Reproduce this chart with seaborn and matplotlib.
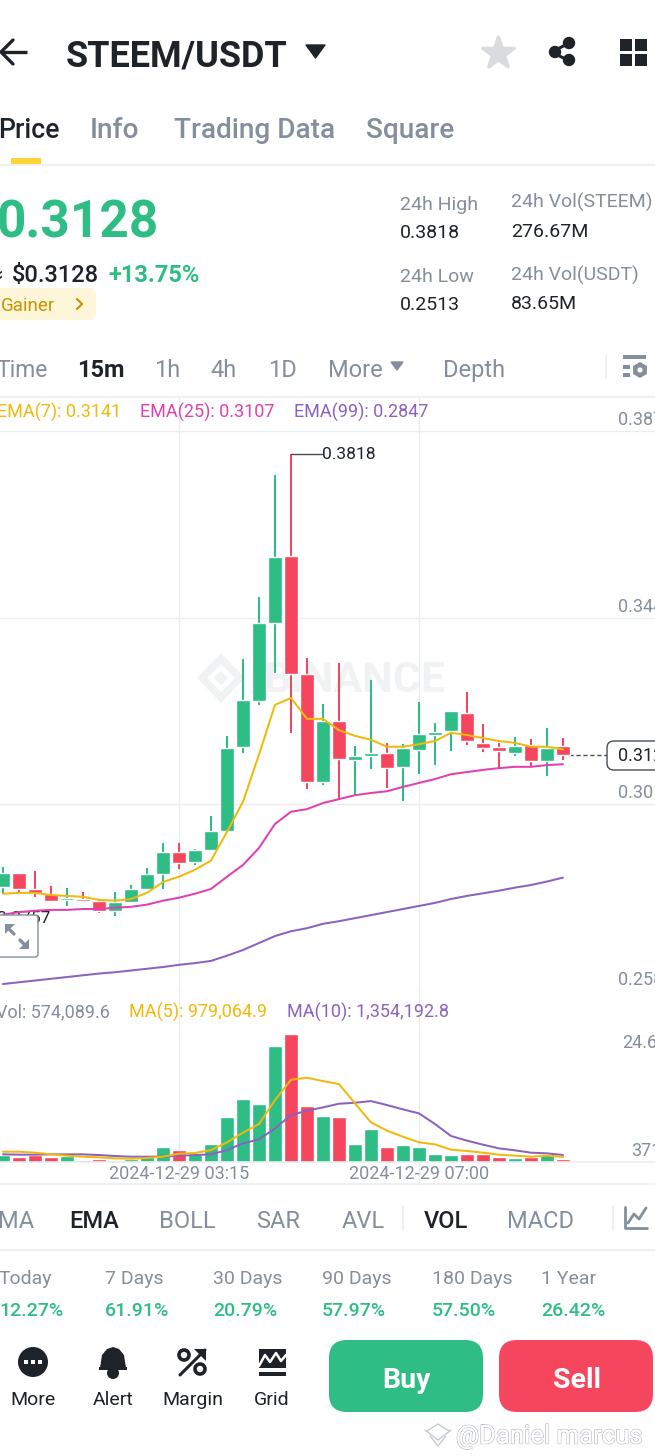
import numpy as np
import pandas as pd
import seaborn as sns
import matplotlib
matplotlib.use("Agg")
import matplotlib.pyplot as plt
from matplotlib.patches import FancyBboxPatch, Polygon, Circle, Rectangle, RegularPolygon
from matplotlib.transforms import ScaledTranslation
import matplotlib.patheffects as pe

# ---------- data ----------
opens  = [.2826,.2858,.2821,.2810,.2796,.2798,.2794,.2771,.2791,.2821,.2856,.2906,.2883,.2911,.2954,.3146,.3252,.3431,.3584,.3314,.3066,.3206,.3117,.3126,.3133,.3101,.3140,.3174,.3183,.3224,.3156,.3147,.3133,.3151,.3115,.3149]
closes = [.2858,.2821,.2812,.2794,.2801,.2794,.2771,.2791,.2821,.2856,.2906,.2881,.2911,.2954,.3144,.3254,.3431,.3582,.3314,.3066,.3206,.3119,.3126,.3133,.3098,.3144,.3176,.3181,.3229,.3160,.3144,.3137,.3149,.3115,.3144,.3128]
highs  = [.2872,.2858,.2863,.2828,.2824,.2814,.2798,.2814,.2830,.2869,.2927,.2927,.2913,.2989,.3172,.3348,.3490,.3770,.3818,.3350,.3245,.3339,.3149,.3300,.3156,.3153,.3249,.3202,.3229,.3272,.3199,.3156,.3170,.3165,.3190,.3167]
lows   = [.2812,.2814,.2803,.2794,.2782,.2794,.2766,.2759,.2791,.2821,.2821,.2867,.2876,.2911,.2954,.3133,.3243,.3316,.3178,.3050,.3059,.3027,.3034,.3096,.3052,.3022,.3085,.3105,.3137,.3151,.3135,.3098,.3126,.3101,.3080,.3117]
ema7   = [.2810,.2812,.2812,.2807,.2805,.2803,.2796,.2794,.2798,.2812,.2837,.2849,.2865,.2886,.2952,.3021,.3129,.3243,.3259,.3211,.3211,.3185,.3172,.3163,.3147,.3147,.3153,.3160,.3179,.3174,.3167,.3160,.3156,.3147,.3147,.3141]
ema25  = [.2762,.2768,.2771,.2773,.2773,.2775,.2775,.2778,.2780,.2785,.2794,.2801,.2810,.2821,.2849,.2876,.2915,.2970,.2998,.3004,.3018,.3027,.3036,.3041,.3045,.3055,.3064,.3073,.3084,.3089,.3094,.3098,.3101,.3101,.3105,.3107]
ema99  = [.2603,.2607,.2611,.2615,.2619,.2623,.2627,.2630,.2634,.2638,.2642,.2647,.2651,.2656,.2668,.2681,.2697,.2713,.2724,.2731,.2741,.2747,.2754,.2761,.2768,.2775,.2782,.2789,.2798,.2805,.2811,.2817,.2824,.2830,.2838,.2847]
volume = [1.29,1.02,1.34,1.02,1.15,.38,.63,.38,.58,1.34,2.94,2.36,1.54,3.40,8.58,12.10,11.19,22.27,24.60,10.75,8.77,8.58,3.46,6.34,2.88,3.26,2.88,1.54,1.40,1.48,1.54,1.02,.71,.90,1.54,.57]
vol_ma5  = [1.98,1.98,1.79,1.47,1.22,1.02,.90,.70,.64,.77,1.02,1.60,1.73,2.30,3.78,5.63,7.30,11.90,15.81,16.19,15.55,14.98,11.26,7.62,6.02,4.86,3.78,3.39,2.37,2.11,1.79,1.41,1.22,1.02,1.22,.98]
vol_ma10 = [1.47,1.41,1.41,1.47,1.47,1.47,1.34,1.15,1.02,1.02,1.02,1.22,1.34,1.47,2.30,3.58,4.35,6.46,9.02,9.86,10.50,11.20,11.39,11.71,10.94,10.11,9.34,7.30,5.00,4.10,3.33,2.62,2.24,1.79,1.66,1.35]
price_ticks = [.3871,.3443,.3015,.2587]
price_tick_labels = ["0.387","0.344","0.301","0.258"]
vol_ticks = [24.6,.371]
vol_tick_labels = ["24.6","371"]
time_ticks = [11,26]
time_tick_labels = ["2024-12-29 03:15","2024-12-29 07:00"]
high_price, last_price = .3818, .3128

periods = ["Today","7 Days","30 Days","90 Days","180 Days","1 Year"]
period_changes = ["12.27%","61.91%","20.79%","57.97%","57.50%","26.42%"]

GREEN, RED, YEL, PINK, PUR = "#2EBD85", "#F6465D", "#F0B90B", "#E040B0", "#8B62BE"
GRAY, DARK, LINE = "#848E9C", "#1E2329", "#EAECEF"

sns.set_theme(style="white")
plt.rcParams["font.family"] = ["Roboto", "DejaVu Sans"]

idx = np.arange(len(opens))
df = pd.DataFrame({"i": idx, "o": opens, "c": closes, "h": highs, "l": lows, "vol": volume})
df["dir"] = np.where(df.c >= df.o, "up", "down")
pal = {"up": GREEN, "down": RED}

W, H = 655, 1456
fig = plt.figure(figsize=(W/100, H/100), dpi=100, facecolor="white")

def px_axes(top, bottom, z):
    return fig.add_axes([0, 1-bottom/H, 1, (bottom-top)/H], zorder=z)

back = fig.add_axes([0, 0, 1, 1], zorder=0); back.set_xlim(0, W); back.set_ylim(H, 0); back.axis("off")
front = fig.add_axes([0, 0, 1, 1], zorder=5); front.set_xlim(0, W); front.set_ylim(H, 0); front.axis("off")
front.patch.set_alpha(0)

XLIM = (-3/16, 652/16)
# ---------- price panel ----------
ax = px_axes(431, 991, 2)
ax.patch.set_alpha(0)
cols = df.dir.map(pal)
ax.vlines(df.i, df.l, df.h, colors=cols, lw=1.45, zorder=2)
ax.bar(df.i, (df.c-df.o).abs(), bottom=df[["o","c"]].min(axis=1), width=.86, color=cols, zorder=3)
for series, col in ((ema99, PUR), (ema25, PINK), (ema7, YEL)):
    sns.lineplot(x=idx, y=series, color=col, lw=1.45, ax=ax, legend=False, errorbar=None, zorder=4)
ax.set_xlim(*XLIM); ax.set_ylim(.2587, .3871)
ax.set_xticks(time_ticks); ax.set_xticklabels([])
ax.yaxis.tick_right()
ax.set_yticks(price_ticks); ax.set_yticklabels(price_tick_labels)
ax.tick_params(axis="y", length=0, pad=-26.6, labelsize=13, labelcolor=GRAY)
ax.tick_params(axis="x", length=0)
lift = ScaledTranslation(0, 2/72*0.72, fig.dpi_scale_trans)
for t in ax.get_yticklabels():
    t.set_ha("left"); t.set_va("bottom")
    t.set_transform(t.get_transform() + lift)
ax.grid(True, color=LINE, lw=1); ax.set_axisbelow(True)
for s in ax.spines.values(): s.set_visible(False)
ax.set_xlabel(""); ax.set_ylabel("")
ax.plot([18, 19.95], [high_price, high_price], color="#474D57", lw=1, zorder=2)
ax.text(19.95, high_price, "0.3818", color=DARK, fontsize=12.5, va="center", ha="left")
ax.plot([35.4, 37.75], [last_price, last_price], color="#474D57", lw=1, ls=(0, (3, 2)), zorder=2)

# ---------- volume panel ----------
vx = px_axes(1034, 1162, 2)
vx.patch.set_alpha(0)
sns.barplot(data=df, x="i", y="vol", hue="dir", palette=pal, native_scale=True, dodge=False,
            width=.86, saturation=1, errorbar=None, legend=False, ax=vx, zorder=2)
sns.lineplot(x=idx, y=vol_ma10, color=PUR, lw=1.45, ax=vx, legend=False, errorbar=None, zorder=4)
sns.lineplot(x=idx, y=vol_ma5, color=YEL, lw=1.45, ax=vx, legend=False, errorbar=None, zorder=5)
vx.set_xlim(*XLIM); vx.set_ylim(0, 24.6)
vx.set_xticks(time_ticks); vx.set_xticklabels(time_tick_labels)
vx.tick_params(axis="x", length=0, pad=2, labelsize=13, labelcolor=GRAY)
vx.set_yticks([])
for val, lab, off, va in zip(vol_ticks, vol_tick_labels, (-33, -24), ("top", "bottom")):
    vx.annotate(lab, xy=(1, val), xycoords=vx.get_yaxis_transform(), xytext=(off, 0),
                textcoords="offset pixels", ha="left", va=va, color=GRAY, fontsize=13)
vx.grid(True, axis="x", color=LINE, lw=1); vx.set_axisbelow(True)
for s in ("top", "left", "right"): vx.spines[s].set_visible(False)
vx.spines["bottom"].set_color(LINE); vx.spines["bottom"].set_linewidth(1.2)
vx.set_xlabel(""); vx.set_ylabel("")

# ---------- interface furniture ----------
def T(x, y, s, c=DARK, size=14, w="normal", ha="left", a=None, **kw):
    return (a or front).text(x, y + size*0.13, s, color=c, fontsize=size, fontweight=w, ha=ha, va="center", **kw)

for y in (164.5, 397, 1183.5, 1250):
    back.plot([0, W], [y, y], color=LINE, lw=1.1)
for x in (179, 419):
    for y0, y1 in ((398, 431), (991, 1034), (1162, 1183)):
        back.plot([x, x], [y0, y1], color=LINE, lw=1)

# watermark in chart
WM = "#F1F2F3"
T(263, 676, "BINANCE", WM, 31, "bold", a=back)
cx, cy = 221, 678
back.add_patch(Polygon([[cx-24,cy],[cx,cy-25],[cx+24,cy],[cx,cy+25]], fc=WM, ec="none"))
back.add_patch(Polygon([[cx-14,cy],[cx,cy-14],[cx+14,cy],[cx,cy+14]], fc="white", ec="none"))
back.add_patch(Polygon([[cx-7,cy],[cx,cy-7],[cx+7,cy],[cx,cy+7]], fc=WM, ec="none"))

# header
front.plot([2, 27], [52, 52], color=DARK, lw=2.4, solid_capstyle="butt")
front.plot([13, 1, 13], [40, 52, 64], color=DARK, lw=2.4, solid_joinstyle="miter")
T(66, 53, "STEEM/USDT", DARK, 26, "bold")
front.add_patch(Polygon([[306,45],[325,45],[315.5,58]], fc=DARK, ec=DARK, lw=1, joinstyle="round"))
front.scatter([498], [53], marker="*", s=560, color="#D9DBDF", edgecolors="#D9DBDF", linewidths=2.5)
for a_, b_ in (((552, 52), (571, 42)), ((552, 52), (571, 62))):
    front.plot([a_[0], b_[0]], [a_[1], b_[1]], color=DARK, lw=2.2)
for c_ in ((555, 52), (569, 43), (569, 60)):
    front.add_patch(Circle(c_, 6.2, fc=DARK, ec="none"))
for sx, sy in ((620, 39), (635, 39), (620, 54), (635, 54)):
    front.add_patch(Rectangle((sx, sy), 12, 12, fc=DARK, ec="none"))

# tabs
T(-2, 128, "Price", DARK, 19.2, "medium")
for x, s in ((90, "Info"), (174, "Trading Data"), (366, "Square")):
    T(x, 128, s, GRAY, 20.2, "medium")
front.add_patch(Rectangle((11, 158), 30, 6, fc="#FCD535", ec="none"))

# price block
T(-3, 219, "0.3128", GREEN, 37, "bold")
T(-10, 273, "≈", DARK, 17)
T(12, 273, "$0.3128", DARK, 17, "medium")
T(108, 273, "+13.75%", GREEN, 17, "bold")
front.add_patch(FancyBboxPatch((-12, 288), 108, 32, boxstyle="round,pad=0,rounding_size=7", fc="#FEF6D8", ec="none"))
T(1, 304, "Gainer", "#C99400", 13.5)
front.plot([77, 82, 77], [299, 304, 309], color="#C99400", lw=1.6)
for x, y1, s1, y2, s2 in ((400, 203, "24h High", 231, "0.3818"), (511, 201, "24h Vol(STEEM)", 230, "276.67M"),
                          (400, 275, "24h Low", 303, "0.2513"), (511, 274, "24h Vol(USDT)", 302, "83.65M")):
    T(x, y1, s1, GRAY, 14)
    T(x, y2, s2, DARK, 14)

# timeframe row
T(-4, 368, "Time", GRAY, 16.5)
T(77, 368, "15m", DARK, 17, "bold")
for x, s in ((154, "1h"), (210, "4h"), (268, "1D"), (328, "More"), (443, "Depth")):
    T(x, 368, s, GRAY, 17)
front.add_patch(Polygon([[391,362],[403,362],[397,370]], fc=GRAY, ec=GRAY, lw=1))
back.plot([606, 606], [355, 378], color=LINE, lw=1.2)
front.add_patch(Rectangle((623, 355), 23, 3.5, fc=GRAY, ec="none"))
front.add_patch(Rectangle((623, 365), 7, 3.5, fc=GRAY, ec="none"))
front.add_patch(Rectangle((623, 373), 7, 3.5, fc=GRAY, ec="none"))
front.add_patch(RegularPolygon((640, 370), 6, radius=8, fc=GRAY, ec="none"))
front.add_patch(Circle((640, 370), 2.6, fc="white", ec="none"))

# legends
T(-3, 411, "EMA(7): 0.3141", YEL, 13)
T(140, 411, "EMA(25): 0.3107", PINK, 13)
T(294, 411, "EMA(99): 0.2847", PUR, 13)
T(-4, 1011, "Vol: 574,089.6", GRAY, 13)
T(129, 1011, "MA(5): 979,064.9", YEL, 13)
T(287, 1011, "MA(10): 1,354,192.8", PUR, 13)

# left low label and expand button
T(-3, 917, "0.2757", DARK, 12.5, a=back)
front.add_patch(FancyBboxPatch((-12, 915), 50, 42, boxstyle="round,pad=0,rounding_size=3", fc="white", ec=GRAY, lw=1))
for (x0, y0, x1, y1) in ((8, 928, 14, 934), (26, 946, 20, 940)):
    front.plot([x0, x1], [y0, y1], color=GRAY, lw=2.4)
front.add_patch(Polygon([[5,924],[15,924],[5,934]], fc=GRAY, ec="none"))
front.add_patch(Polygon([[29,949],[19,949],[29,939]], fc=GRAY, ec="none"))

# last price box
front.add_patch(FancyBboxPatch((607, 741), 60, 29, boxstyle="round,pad=0,rounding_size=7", fc="white", ec="#474D57", lw=1))
T(618, 754, "0.312", DARK, 13)

# indicator row
for x, s, c in ((-2, "MA", GRAY), (69, "EMA", DARK), (159, "BOLL", GRAY), (256, "SAR", GRAY), (342, "AVL", GRAY),
                (424, "VOL", DARK), (507, "MACD", GRAY)):
    T(x, 1219, s, c, 17, "medium" if c == DARK else "normal")
back.plot([403, 403], [1206, 1230], color=LINE, lw=1.2)
back.plot([613, 613], [1206, 1230], color=LINE, lw=1.2)
front.plot([625, 625, 647], [1207, 1228, 1228], color=GRAY, lw=2)
front.plot([628, 634, 639, 646], [1223, 1214, 1219, 1208], color=GRAY, lw=2)

# period row
for x, p, v in zip((-1, 105, 213, 322, 432, 541), periods, period_changes):
    T(x, 1277, p, GRAY, 14)
    T(x, 1309, v, GREEN, 14, "medium")

# bottom bar
front.add_patch(Circle((33, 1362), 15, fc=DARK, ec="none"))
for dx in (-7, 0, 7):
    front.add_patch(Rectangle((33+dx-2, 1360), 4, 4, fc="white", ec="none"))
front.add_patch(Polygon([[100,1368],[102,1355],[107,1349],[113,1347],[119,1349],[124,1355],[126,1368]], fc=DARK, ec="none"))
front.add_patch(Rectangle((99, 1367), 28, 3, fc=DARK, ec="none"))
front.add_patch(Circle((113, 1373), 6, fc=DARK, ec="none"))
front.plot([180, 205], [1375, 1350], color=DARK, lw=2.2)
front.add_patch(Polygon([[194,1349],[206,1349],[206,1361]], fc=DARK, ec="none"))
for c_ in ((184, 1355), (200, 1369)):
    front.add_patch(Circle(c_, 5, fc="white", ec=DARK, lw=2.6))
front.add_patch(Polygon([[259,1349],[286,1349],[286,1368],[259,1368]], fc=DARK, ec="none"))
front.plot([259, 265, 270, 276, 281, 286], [1366, 1355, 1362, 1353, 1361, 1355], color="white", lw=1.8)
front.add_patch(Rectangle((259, 1372), 27, 4, fc=DARK, ec="none"))
for x, s in ((33, "More"), (113, "Alert"), (193, "Margin"), (272, "Grid")):
    T(x, 1398, s, DARK, 14, ha="center")
front.add_patch(FancyBboxPatch((329, 1340), 154, 72, boxstyle="round,pad=0,rounding_size=18", fc=GREEN, ec="none"))
front.add_patch(FancyBboxPatch((499, 1340), 154, 72, boxstyle="round,pad=0,rounding_size=18", fc=RED, ec="none"))
T(406, 1378, "Buy", "white", 20.5, "bold", ha="center")
T(577, 1378, "Sell", "white", 20.5, "bold", ha="center")

# image-host credit
wm = T(456, 1434, "@Daniel marcus", "white", 18.5)
wm.set_path_effects([pe.withStroke(linewidth=1.1, foreground="#B8BCC2"), pe.Normal()])
for r, yy in ((13, 1430), (8, 1436)):
    front.plot([438-r, 438, 438+r], [yy, yy+10, yy], color="#C6C9CE", lw=1)
front.plot([427, 438, 449], [1431, 1424, 1431], color="#C6C9CE", lw=1)

fig.savefig("out.png", dpi=100, facecolor="white")
